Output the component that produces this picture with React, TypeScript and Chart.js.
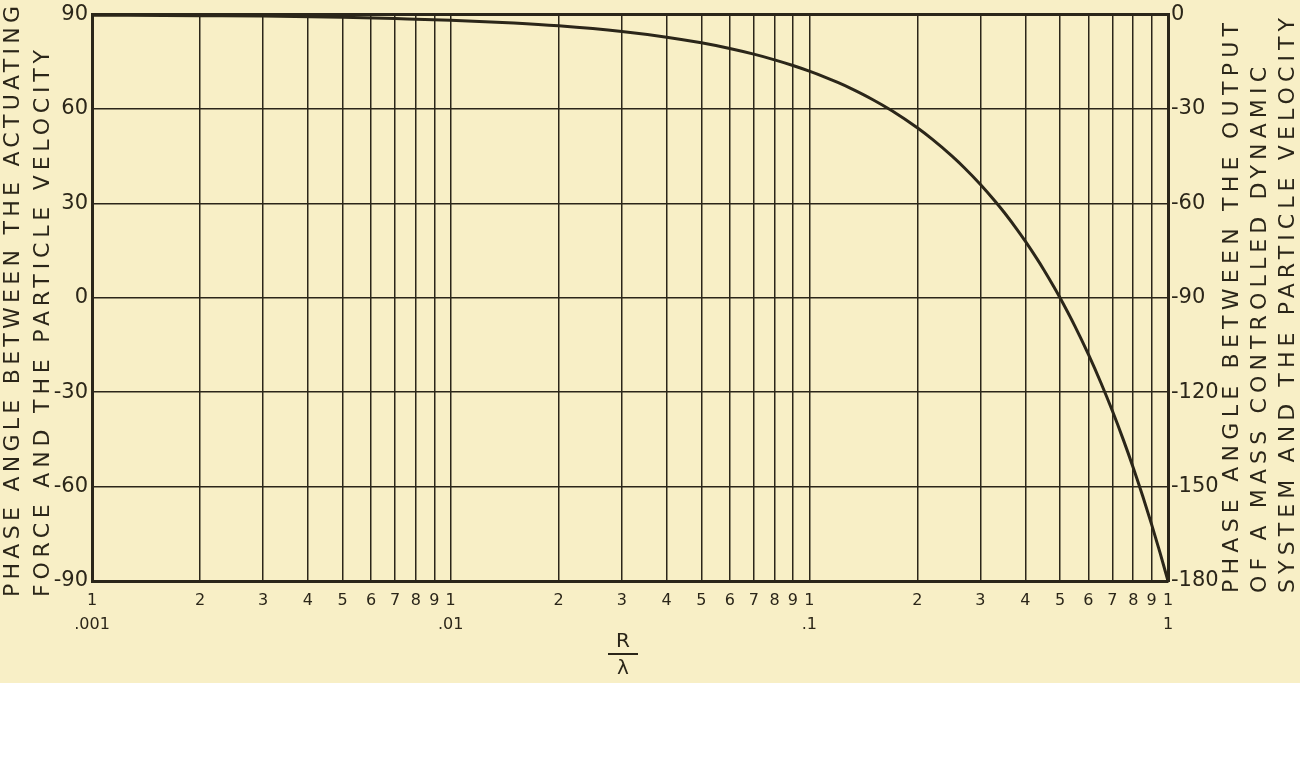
import React, { useEffect, useRef } from "react";
import { Chart, registerables } from "chart.js";

Chart.register(...registerables);

// ---- data ----
const ratioValues = [
  0.001, 0.002, 0.003, 0.005, 0.007, 0.01, 0.015, 0.02, 0.03, 0.04, 0.05, 0.06,
  0.07, 0.08, 0.09, 0.1, 0.11, 0.12, 0.13, 0.15, 0.17, 0.2, 0.22, 0.25, 0.27,
  0.3, 0.33, 0.35, 0.38, 0.4, 0.43, 0.45, 0.48, 0.5, 0.55, 0.6, 0.65, 0.7, 0.75,
  0.8, 0.85, 0.9, 0.95, 1,
];
const phaseValues = [
  89.8, 89.6, 89.5, 89.1, 88.7, 88.2, 87.3, 86.4, 84.6, 82.8, 81.0, 79.2,
  77.4, 75.6, 73.8, 72.0, 70.2, 68.4, 66.6, 63.0, 59.4, 54.0, 50.4, 45.0, 41.4,
  36.0, 30.6, 27.0, 21.6, 18.0, 12.6, 9.0, 3.6, 0.0, -9.0, -18.0, -27.0, -36.0, -45.0,
  -54.0, -63.0, -72.0, -81.0, -90.0,
];

const xTickValues = [
  0.001, 0.002, 0.003, 0.004, 0.005, 0.006, 0.007, 0.008, 0.009,
  0.01, 0.02, 0.03, 0.04, 0.05, 0.06, 0.07, 0.08, 0.09,
  0.1, 0.2, 0.3, 0.4, 0.5, 0.6, 0.7, 0.8, 0.9,
  1,
];
const xTickDigits = [
  "1", "2", "3", "4", "5", "6", "7", "8", "9",
  "1", "2", "3", "4", "5", "6", "7", "8", "9",
  "1", "2", "3", "4", "5", "6", "7", "8", "9",
  "1",
];
const decadeTickIndex = [0, 9, 18, 27];
const decadeLabels = [".001", ".01", ".1", "1"];

const leftTicks = [-90, -60, -30, 0, 30, 60, 90];
const rightTicks = [-180, -150, -120, -90, -60, -30, 0];

const leftTitleLines = [
  "PHASE ANGLE BETWEEN THE ACTUATING",
  "FORCE AND THE PARTICLE VELOCITY",
];
const rightTitleLines = [
  "PHASE ANGLE BETWEEN THE OUTPUT",
  "OF A MASS CONTROLLED DYNAMIC",
  "SYSTEM AND THE PARTICLE VELOCITY",
];
const xTitleTop = "R";
const xTitleBottom = "λ";

// ---- styles ----
const INK = "#2b2619";
const PAPER = "#f8efc6";
const FONT = '"DejaVu Sans", sans-serif';

const titlePlugin = {
  id: "paperTitles",
  afterDraw(chart: any) {
    const ctx: CanvasRenderingContext2D = chart.ctx;
    const area = chart.chartArea;
    ctx.save();
    ctx.fillStyle = INK;
    const size = 22;
    ctx.font = `${size}px ${FONT}`;
    const drawVert = (text: string, cx: number, yBottom: number, yTop: number) => {
      ctx.save();
      ctx.translate(cx, yBottom);
      ctx.rotate(-Math.PI / 2);
      (ctx as any).letterSpacing = "0px";
      const w = ctx.measureText(text).width;
      const ls = (yBottom - yTop - w) / (text.length - 1);
      (ctx as any).letterSpacing = `${ls}px`;
      ctx.textAlign = "left";
      ctx.textBaseline = "alphabetic";
      ctx.fillText(text, 0, size * 0.365);
      ctx.restore();
    };
    drawVert(leftTitleLines[0], 11, 597, 6);
    drawVert(leftTitleLines[1], 41, 597, 50);
    drawVert(rightTitleLines[0], 1230, 593, 23);
    drawVert(rightTitleLines[1], 1258, 593, 67);
    drawVert(rightTitleLines[2], 1286, 593, 18);

    const cx = (area.left + area.right) / 2 - 7;
    (ctx as any).letterSpacing = "0px";
    ctx.font = `20px ${FONT}`;
    ctx.textAlign = "center";
    ctx.textBaseline = "middle";
    ctx.fillText(xTitleTop, cx, 642);
    ctx.strokeStyle = INK;
    ctx.lineWidth = 2;
    ctx.beginPath();
    ctx.moveTo(cx - 15, 654);
    ctx.lineTo(cx + 15, 654);
    ctx.stroke();
    ctx.fillText(xTitleBottom, cx, 669);
    ctx.restore();
  },
};

export default function App() {
  const canvasRef = useRef<HTMLCanvasElement | null>(null);

  useEffect(() => {
    if (!canvasRef.current) return;
    const points = ratioValues.map((r, i) => ({ x: r, y: phaseValues[i] }));
    const chart = new Chart(canvasRef.current, {
      type: "line",
      data: {
        datasets: [
          {
            data: points,
            borderColor: INK,
            borderWidth: 3,
            pointRadius: 0,
            fill: false,
            cubicInterpolationMode: "monotone",
            yAxisID: "y",
          },
        ],
      },
      options: {
        animation: false,
        responsive: false,
        devicePixelRatio: 1,
        layout: { padding: { top: 12, left: 0, right: 0, bottom: 0 } },
        plugins: {
          legend: { display: false },
          tooltip: { enabled: false },
        },
        scales: {
          x: {
            type: "logarithmic",
            min: 0.001,
            max: 1,
            afterBuildTicks: (scale: any) => {
              scale.ticks = xTickValues.map((v) => ({ value: v }));
            },
            afterFit: (scale: any) => {
              scale.height = 102;
            },
            ticks: {
              autoSkip: false,
              maxRotation: 0,
              minRotation: 0,
              padding: 8,
              color: INK,
              font: { family: FONT, size: 16, lineHeight: 1.5 },
              callback: (_v: any, index: number) => {
                const d = decadeTickIndex.indexOf(index);
                if (d >= 0) return [xTickDigits[index], decadeLabels[d]];
                return xTickDigits[index];
              },
            },
            grid: {
              color: INK,
              lineWidth: 1.5,
              drawTicks: false,
            },
            border: { display: true, color: INK, width: 3 },
          },
          y: {
            position: "left",
            min: -90,
            max: 90,
            afterBuildTicks: (scale: any) => {
              scale.ticks = leftTicks.map((v) => ({ value: v }));
            },
            afterFit: (scale: any) => {
              scale.width = 92;
            },
            ticks: {
              padding: 4,
              color: INK,
              font: { family: FONT, size: 21, lineHeight: 1 },
              callback: (v: any) => String(v),
            },
            grid: {
              color: INK,
              lineWidth: (c: any) => (c.tick && c.tick.value === 90 ? 3 : 1.5),
              drawTicks: false,
            },
            border: { display: true, color: INK, width: 3 },
          },
          y2: {
            position: "right",
            min: -180,
            max: 0,
            afterBuildTicks: (scale: any) => {
              scale.ticks = rightTicks.map((v) => ({ value: v }));
            },
            afterFit: (scale: any) => {
              scale.width = 132;
            },
            ticks: {
              padding: 3,
              color: INK,
              font: { family: FONT, size: 21, lineHeight: 1 },
              callback: (v: any) => String(v),
            },
            grid: { display: false, drawTicks: false },
            border: { display: true, color: INK, width: 3 },
          },
        },
      },
      plugins: [titlePlugin],
    } as any);
    return () => chart.destroy();
  }, []);

  return (
    <div
      style={{
        position: "absolute",
        left: 0,
        top: 0,
        width: 1300,
        height: 683,
        background: PAPER,
      }}
    >
      <canvas ref={canvasRef} width={1300} height={683} style={{ display: "block" }} />
    </div>
  );
}
